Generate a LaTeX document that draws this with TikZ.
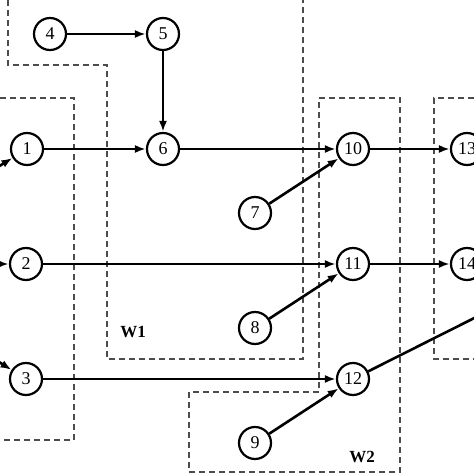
\documentclass[tikz,border=0pt]{standalone}
\usepackage{fontspec}
\setmainfont{Liberation Serif}
\usetikzlibrary{arrows.meta}
\begin{document}
\begin{tikzpicture}[x=1pt,y=-1pt,
  vnode/.style={circle,draw=black,line width=2.2pt,minimum size=32pt,inner sep=0pt,font=\fontsize{18}{20}\selectfont},
  edge/.style={line width=2.6pt,-{Latex[length=11pt,width=8pt]}},
  plain/.style={line width=2.6pt},
  region/.style={draw=black!70,line width=1.5pt,dash pattern=on 6pt off 4pt},
  lbl/.style={font=\fontsize{17}{19}\selectfont\bfseries}]
\useasboundingbox (0,0) rectangle (474,474);
\clip (0,0) rectangle (474,474);
% regions
\draw[region] (8,-10) -- (8,65) -- (107,65) -- (107,359) -- (303,359) -- (303,-10);
\draw[region] (-10,98) -- (74,98) -- (74,440) -- (-10,440);
\draw[region] (319,98) -- (400,98) -- (400,472) -- (189,472) -- (189,392) -- (319,392) -- cycle;
\draw[region] (484,98) -- (434,98) -- (434,359) -- (484,359);
% nodes
\node[vnode] (n4) at (50,34) {4};
\node[vnode] (n5) at (163,34) {5};
\node[vnode] (n6) at (163,149) {6};
\node[vnode] (n1) at (27,149) {1};
\node[vnode] (n2) at (26,264) {2};
\node[vnode] (n3) at (26,379) {3};
\node[vnode] (n7) at (255,213) {7};
\node[vnode] (n8) at (255,328) {8};
\node[vnode] (n9) at (255,443) {9};
\node[vnode] (n10) at (353,149) {10};
\node[vnode] (n11) at (353,264) {11};
\node[vnode] (n12) at (353,379) {12};
\node[vnode] (n13) at (467,149) {13};
\node[vnode] (n14) at (467,264) {14};
\coordinate (in1) at (-20,178);
\coordinate (in2) at (-25,264);
\coordinate (in3) at (-20,350);
\coordinate (out12) at (530,290);
% edges
\draw[edge] (n4) -- (n5);
\draw[edge] (n5) -- (n6);
\draw[edge] (n1) -- (n6);
\draw[edge] (n6) -- (n10);
\draw[edge] (n7) -- (n10);
\draw[edge] (n10) -- (n13);
\draw[edge] (n2) -- (n11);
\draw[edge] (n8) -- (n11);
\draw[edge] (n11) -- (n14);
\draw[edge] (n3) -- (n12);
\draw[edge] (n9) -- (n12);
\draw[plain] (n12) -- (out12);
\draw[edge] (in1) -- (n1);
\draw[edge] (in2) -- (n2);
\draw[edge] (in3) -- (n3);
% labels
\node[lbl] (w1) at (133,332) {W1};
\node[lbl] (w2) at (362,457) {W2};
\end{tikzpicture}
\end{document}
